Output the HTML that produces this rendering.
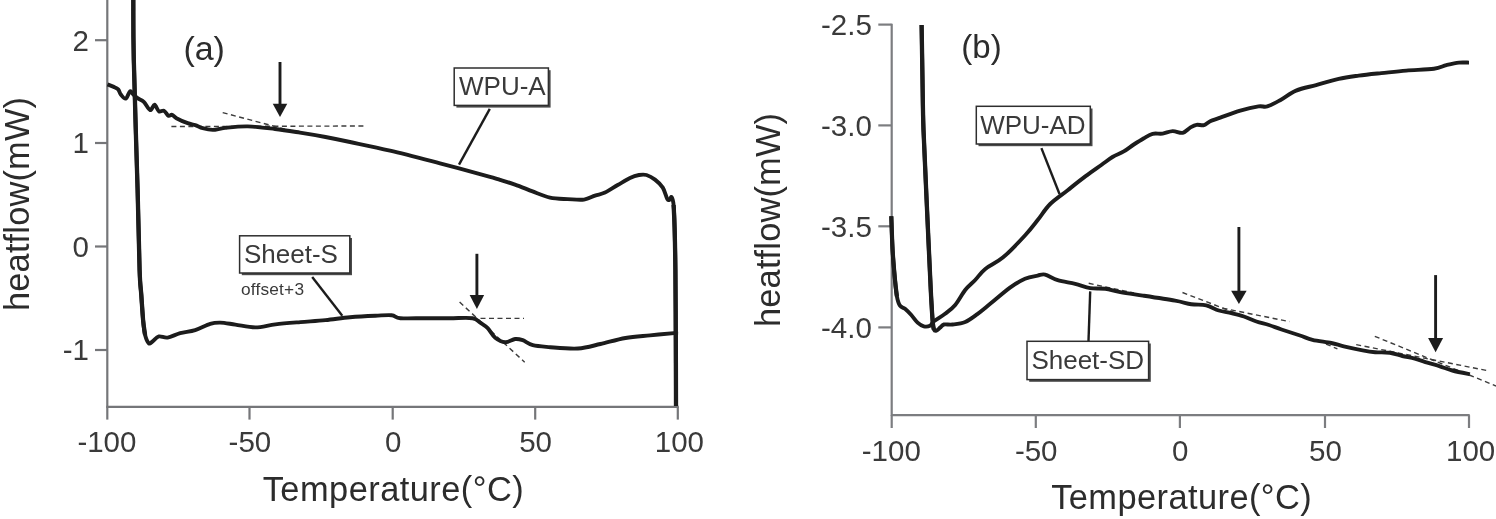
<!DOCTYPE html>
<html lang="en"><head><meta charset="utf-8"><title>DSC heatflow curves</title>
<style>html,body{margin:0;padding:0;background:#fff;overflow:hidden}svg{display:block;filter:blur(0.35px)}</style></head>
<body>
<svg width="1496" height="519" viewBox="0 0 1496 519" font-family="Liberation Sans, Arial, Helvetica, sans-serif">
<rect width="1496" height="519" fill="#fff"/>
<g stroke="#757679" stroke-width="2.2" fill="none">
<path d="M107.3 0V407.4"/>
<path d="M106.3 406.8H678.8"/>
<path d="M95 40.2H107.3"/>
<path d="M95 143H107.3"/>
<path d="M95 246.5H107.3"/>
<path d="M95 350H107.3"/>
<path d="M107.3 406.7V419.6"/>
<path d="M249.5 406.7V419.6"/>
<path d="M392.7 406.7V419.6"/>
<path d="M535.2 406.7V419.6"/>
<path d="M677.8 406.7V419.6"/>
</g>
<g stroke="#7c7d80" stroke-width="2.2" fill="none">
<path d="M891.7 23.8V416"/>
<path d="M891 415.2H1469.7"/>
<path d="M878.3 24.6H891.7"/>
<path d="M878.3 125.4H891.7"/>
<path d="M878.3 226.3H891.7"/>
<path d="M878.3 327.4H891.7"/>
<path d="M891.7 415.2V428"/>
<path d="M1035.8 415.2V428"/>
<path d="M1179.9 415.2V428"/>
<path d="M1325 415.2V428"/>
<path d="M1469 415.2V428"/>
</g>
<g font-size="29.5" fill="#3a3a3a">
<text x="89" y="50.6" text-anchor="end">2</text>
<text x="89" y="153.4" text-anchor="end">1</text>
<text x="89" y="256.9" text-anchor="end">0</text>
<text x="89" y="360.4" text-anchor="end">-1</text>
<text x="106.9" y="452.3" text-anchor="middle">-100</text>
<text x="249.9" y="452.3" text-anchor="middle">-50</text>
<text x="393.09999999999997" y="452.3" text-anchor="middle">0</text>
<text x="535.6" y="452.3" text-anchor="middle">50</text>
<text x="679.4" y="452.3" text-anchor="middle">100</text>
<text x="871.8" y="35.0" text-anchor="end">-2.5</text>
<text x="871.8" y="135.8" text-anchor="end">-3.0</text>
<text x="871.8" y="236.70000000000002" text-anchor="end">-3.5</text>
<text x="871.8" y="337.79999999999995" text-anchor="end">-4.0</text>
<text x="891.3000000000001" y="461.3" text-anchor="middle">-100</text>
<text x="1036.2" y="461.3" text-anchor="middle">-50</text>
<text x="1180.3000000000002" y="461.3" text-anchor="middle">0</text>
<text x="1325.4" y="461.3" text-anchor="middle">50</text>
<text x="1470.6000000000001" y="461.3" text-anchor="middle">100</text>
</g>
<g font-size="34.4" fill="#2c2c2c">
<text x="262.7" y="501" textLength="261" lengthAdjust="spacing">Temperature(°C)</text>
<text x="1051.2" y="509.3" textLength="260.5" lengthAdjust="spacing">Temperature(°C)</text>
<text transform="translate(28.5 311) rotate(-90)" textLength="214" lengthAdjust="spacing">heatflow(mW)</text>
<text transform="translate(780 327) rotate(-90)" textLength="214" lengthAdjust="spacing">heatflow(mW)</text>
</g>
<text x="183.4" y="59.8" font-size="34" fill="#2c2c2c">(a)</text>
<text x="961.3" y="58" font-size="33" fill="#2c2c2c">(b)</text>
<path d="M171.4 126.5L364.5 126" stroke="#3c3c3c" stroke-width="1.4" stroke-dasharray="5 3.5" fill="none"/>
<path d="M222.7 112.6L292 131" stroke="#3c3c3c" stroke-width="1.4" stroke-dasharray="5 3.5" fill="none"/>
<path d="M472 318.4L524 318.4" stroke="#3c3c3c" stroke-width="1.4" stroke-dasharray="5 3.5" fill="none"/>
<path d="M459.6 302.1L524.7 362.2" stroke="#3c3c3c" stroke-width="1.4" stroke-dasharray="5 3.5" fill="none"/>
<path d="M1088.7 283.3L1134 293" stroke="#3c3c3c" stroke-width="1.4" stroke-dasharray="5 3.5" fill="none"/>
<path d="M1182.5 292.5L1246 317" stroke="#3c3c3c" stroke-width="1.4" stroke-dasharray="5 3.5" fill="none"/>
<path d="M1222.6 308.2L1289.5 321.6" stroke="#3c3c3c" stroke-width="1.4" stroke-dasharray="5 3.5" fill="none"/>
<path d="M1326 344L1337.4 348.9" stroke="#3c3c3c" stroke-width="1.4" stroke-dasharray="5 3.5" fill="none"/>
<path d="M1356.2 344.6L1487.7 370.7" stroke="#3c3c3c" stroke-width="1.4" stroke-dasharray="5 3.5" fill="none"/>
<path d="M1374.8 336.3L1496 386" stroke="#3c3c3c" stroke-width="1.4" stroke-dasharray="5 3.5" fill="none"/>
<g stroke="#1c1c1c" fill="none" stroke-linecap="butt" stroke-linejoin="round">
<path stroke-width="3.9" d="M107.5 84.4C108.5 84.8 112.0 86.1 113.8 86.9C115.6 87.7 117.0 88.2 118.2 89.4C119.4 90.7 119.5 92.9 120.7 94.4C122.0 95.9 124.1 99.1 125.7 98.6C127.3 98.1 128.8 92.0 130.1 91.3C131.3 90.6 131.9 93.2 133.2 94.4C134.4 95.6 135.8 97.0 137.6 98.2C139.4 99.5 141.7 99.9 143.8 101.9C145.9 103.9 148.3 109.6 150.1 110.1C151.9 110.6 153.0 104.6 154.5 104.8C156.0 105.0 157.3 110.3 158.9 111.3C160.5 112.3 162.3 110.0 163.9 110.7C165.5 111.4 167.0 115.0 168.3 115.7C169.7 116.4 170.7 114.4 172.0 114.8C173.3 115.2 173.8 116.8 176.4 118.2C179.0 119.6 184.6 122.1 187.7 123.2C190.8 124.3 192.7 124.3 195.2 125.1C197.7 125.9 199.8 127.4 202.7 128.2C205.6 129.0 209.0 129.9 212.7 129.9C216.4 129.9 219.2 128.5 225.0 127.9C230.8 127.3 239.5 126.2 247.8 126.4C256.1 126.6 266.3 128.0 275.0 129.0C283.7 130.0 291.6 131.3 300.0 132.6C308.4 133.9 317.2 135.4 325.5 137.0C333.8 138.6 339.2 139.7 350.0 142.0C360.8 144.3 375.0 147.1 390.0 150.7C405.0 154.2 423.3 159.0 440.0 163.3C456.7 167.7 480.0 174.1 490.0 176.8C500.0 179.6 495.8 178.5 500.0 179.8C504.2 181.1 509.6 182.7 515.0 184.6C520.4 186.5 526.8 189.2 532.6 191.4C538.4 193.6 544.2 196.3 550.0 197.6C555.8 198.9 561.9 198.8 567.6 199.1C573.3 199.4 579.4 200.2 584.0 199.6C588.6 199.0 591.5 196.8 595.0 195.6C598.5 194.4 601.2 194.4 605.0 192.6C608.8 190.8 613.5 187.4 617.7 185.0C621.9 182.6 626.5 179.7 630.0 178.0C633.5 176.3 636.2 175.5 639.0 175.0C641.8 174.5 643.8 174.2 646.5 175.0C649.2 175.8 652.3 177.5 655.0 179.6C657.7 181.7 660.8 184.4 662.8 187.6C664.8 190.8 666.1 196.9 667.3 198.9C668.5 200.9 669.1 199.9 669.8 199.6C670.5 199.3 671.0 196.1 671.6 197.0C672.2 197.9 673.1 199.9 673.6 205.0C674.1 210.1 674.3 216.9 674.6 227.7C674.9 238.5 675.2 251.3 675.4 270.0C675.6 288.7 675.7 317.3 675.8 340.0C675.9 362.7 676.0 395.0 676.0 406.0"/>
<path stroke-width="3.9" d="M133.3 0.0C133.4 10.0 133.1 28.3 133.8 60.0C134.5 91.7 136.6 155.0 137.6 190.0C138.6 225.0 139.0 252.5 139.6 270.0C140.2 287.5 140.7 286.6 141.3 295.0C141.9 303.4 142.5 313.4 143.1 320.1C143.7 326.8 144.1 331.2 145.1 335.1C146.1 339.0 147.6 342.3 148.8 343.4C150.1 344.4 150.9 342.6 152.6 341.4C154.3 340.2 156.4 337.0 158.9 336.4C161.4 335.8 164.1 338.2 167.6 337.6C171.1 337.1 175.6 334.4 180.2 333.1C184.8 331.9 190.2 331.6 195.2 330.1C200.2 328.6 206.0 325.1 210.2 323.9C214.4 322.6 216.0 322.5 220.2 322.6C224.4 322.7 229.5 323.8 235.3 324.6C241.2 325.4 248.6 327.4 255.3 327.4C262.0 327.4 267.9 325.3 275.4 324.4C282.9 323.5 292.0 322.8 300.4 322.1C308.8 321.4 317.2 320.9 325.5 320.1C333.8 319.3 341.7 317.9 350.0 317.2C358.3 316.5 368.5 316.0 375.4 315.7C382.3 315.4 387.4 314.8 391.6 315.2C395.8 315.6 394.8 317.7 400.4 318.2C406.0 318.7 416.7 318.2 425.0 318.2C433.3 318.2 442.1 318.2 450.0 318.2C457.9 318.2 467.6 317.4 472.6 318.2C477.6 318.9 477.7 321.0 480.2 322.7C482.7 324.4 485.2 325.7 487.7 328.2C490.2 330.7 492.3 335.4 495.2 337.7C498.1 340.0 501.9 342.0 505.2 342.2C508.5 342.4 512.3 339.3 515.2 339.0C518.1 338.7 519.8 339.2 522.7 340.2C525.6 341.2 528.2 344.0 532.8 345.2C537.4 346.4 542.8 346.6 550.3 347.2C557.8 347.8 569.5 349.0 577.9 348.5C586.2 348.0 592.5 345.8 600.4 344.0C608.3 342.2 617.2 339.4 625.5 338.0C633.8 336.6 641.9 336.2 650.0 335.4C658.1 334.6 669.5 333.5 674.0 333.1C678.5 332.7 676.5 332.9 677.0 332.8"/>
<path stroke-width="3.9" d="M891.3 216.3C891.5 221.9 892.0 239.5 892.6 250.1C893.2 260.7 894.3 272.3 895.0 280.0C895.7 287.7 896.1 292.0 896.9 296.3C897.7 300.6 898.6 303.6 900.0 305.7C901.4 307.8 903.1 307.2 905.0 308.8C906.9 310.4 909.2 312.7 911.3 315.0C913.4 317.3 915.5 320.7 917.6 322.6C919.7 324.5 921.7 325.8 923.8 326.3C925.9 326.8 928.3 326.5 930.0 325.7C931.7 324.9 931.4 323.3 933.9 321.3C936.4 319.3 941.5 316.5 945.1 313.8C948.7 311.1 951.9 309.0 955.2 305.0C958.6 301.0 961.9 294.2 965.2 290.0C968.5 285.8 971.9 283.5 975.2 280.0C978.6 276.5 980.7 272.6 985.3 268.9C989.9 265.2 996.1 263.2 1002.8 257.6C1009.5 252.0 1019.6 241.3 1025.4 235.0C1031.2 228.7 1033.6 225.2 1037.7 220.0C1041.8 214.8 1045.2 209.0 1050.2 204.0C1055.2 199.0 1061.9 194.8 1067.7 190.2C1073.5 185.6 1079.7 180.6 1085.3 176.4C1090.9 172.2 1096.8 168.2 1101.3 165.0C1105.8 161.8 1108.8 159.3 1112.5 157.0C1116.2 154.7 1120.2 153.5 1123.8 151.4C1127.3 149.3 1130.4 146.7 1133.8 144.5C1137.2 142.3 1140.8 140.0 1143.9 138.2C1147.0 136.4 1149.5 134.6 1152.6 133.8C1155.7 133.0 1159.2 134.1 1162.6 133.6C1165.9 133.1 1169.3 131.2 1172.7 131.1C1176.1 131.0 1179.8 133.4 1182.7 132.8C1185.6 132.2 1187.9 128.9 1190.2 127.6C1192.5 126.3 1194.2 125.2 1196.5 124.8C1198.8 124.4 1201.7 125.7 1204.0 125.1C1206.3 124.5 1207.5 122.5 1210.2 121.3C1212.9 120.1 1215.3 119.5 1220.3 117.7C1225.3 115.9 1233.9 112.5 1240.3 110.6C1246.7 108.7 1254.0 107.1 1258.5 106.4C1263.0 105.7 1263.5 107.5 1267.3 106.4C1271.0 105.3 1276.2 102.3 1281.0 99.7C1285.8 97.1 1290.2 93.0 1296.1 90.6C1301.9 88.2 1309.0 87.0 1316.1 85.1C1323.2 83.1 1331.6 80.5 1338.7 78.9C1345.8 77.3 1351.6 76.6 1358.7 75.6C1365.8 74.6 1373.4 73.9 1381.3 73.1C1389.2 72.3 1397.5 71.3 1406.3 70.6C1415.1 69.9 1427.2 69.7 1433.9 68.8C1440.6 67.9 1442.2 66.1 1446.4 65.1C1450.6 64.1 1455.1 63.0 1458.9 62.6C1462.7 62.2 1467.3 62.6 1469.0 62.6"/>
<path stroke-width="3.9" d="M921.6 25.0C921.8 34.2 922.2 62.5 922.5 80.0C922.8 97.5 922.8 110.0 923.5 130.0C924.2 150.0 925.5 175.0 926.6 200.0C927.7 225.0 929.5 262.5 930.3 280.0C931.1 297.5 931.2 297.9 931.6 305.0C932.0 312.1 932.4 318.5 932.8 322.6C933.2 326.7 933.3 328.1 933.9 329.5C934.5 330.9 935.4 331.0 936.4 330.7C937.4 330.4 938.9 328.6 940.1 327.6C941.4 326.6 941.8 325.0 943.9 324.5C946.0 324.0 949.0 324.9 952.6 324.5C956.2 324.1 961.0 323.8 965.2 322.0C969.4 320.2 973.5 316.8 977.7 313.8C981.9 310.8 984.8 308.2 990.2 303.8C995.6 299.4 1004.2 291.8 1010.0 287.6C1015.8 283.4 1020.4 280.8 1025.0 278.8C1029.6 276.8 1034.2 276.3 1037.6 275.6C1040.9 274.9 1041.8 273.9 1045.1 274.6C1048.4 275.4 1052.7 278.6 1057.7 280.1C1062.7 281.6 1069.8 282.5 1075.2 283.8C1080.6 285.1 1085.2 287.3 1090.2 288.1C1095.2 288.9 1100.3 288.1 1105.3 288.8C1110.3 289.5 1114.0 291.0 1120.3 292.1C1126.5 293.2 1133.7 294.2 1142.8 295.6C1151.9 297.0 1166.9 299.3 1175.0 300.7C1183.1 302.1 1186.1 303.4 1191.3 304.2C1196.5 305.0 1201.7 304.2 1206.3 305.3C1210.9 306.4 1214.6 309.2 1218.8 310.5C1223.0 311.8 1227.2 312.2 1231.4 313.2C1235.6 314.2 1239.7 315.1 1243.9 316.5C1248.1 317.9 1252.2 320.1 1256.4 321.5C1260.6 322.9 1264.7 323.7 1268.9 325.0C1273.1 326.3 1276.3 327.8 1281.5 329.5C1286.7 331.2 1294.8 333.8 1300.0 335.5C1305.2 337.2 1307.3 338.6 1312.5 339.8C1317.7 341.1 1326.1 341.9 1331.3 343.0C1336.5 344.1 1338.6 345.1 1343.8 346.3C1349.0 347.5 1357.4 349.3 1362.6 350.3C1367.8 351.3 1370.7 351.8 1375.2 352.2C1379.7 352.6 1385.3 352.2 1389.8 352.8C1394.3 353.4 1398.1 355.0 1402.3 356.0C1406.5 357.0 1410.6 357.5 1414.8 358.6C1419.0 359.7 1423.2 361.3 1427.4 362.6C1431.6 363.9 1435.7 365.0 1439.9 366.3C1444.1 367.6 1447.4 369.2 1452.4 370.5C1457.4 371.8 1467.0 373.7 1469.9 374.3"/>
<path stroke-width="4.3" d="M133.3 0.0C133.4 10.0 133.1 28.3 133.8 60.0C134.5 91.7 136.6 155.0 137.6 190.0C138.6 225.0 139.0 252.5 139.6 270.0C140.2 287.5 140.7 286.6 141.3 295.0C141.9 303.4 142.5 313.4 143.1 320.1C143.7 326.8 144.8 332.6 145.1 335.1"/>
<path stroke-width="4.3" d="M673.6 205.0C673.8 208.8 674.3 216.9 674.6 227.7C674.9 238.5 675.2 251.3 675.4 270.0C675.6 288.7 675.7 317.3 675.8 340.0C675.9 362.7 676.0 395.0 676.0 406.0"/>
<path stroke-width="4.3" d="M921.6 25.0C921.8 34.2 922.2 62.5 922.5 80.0C922.8 97.5 922.8 110.0 923.5 130.0C924.2 150.0 925.5 175.0 926.6 200.0C927.7 225.0 929.5 262.5 930.3 280.0C931.1 297.5 931.2 297.9 931.6 305.0C932.0 312.1 932.4 318.5 932.8 322.6C933.2 326.7 933.7 328.4 933.9 329.5"/>
<path stroke-width="4.2" d="M891.3 216.3C891.5 221.9 892.0 239.5 892.6 250.1C893.2 260.7 894.3 272.3 895.0 280.0C895.7 287.7 896.6 293.6 896.9 296.3"/>
</g>
<g stroke="#1c1c1c" stroke-width="2.4" fill="none">
<path d="M489.8 108.8L459 164.7"/>
<path d="M312.2 277.1L342.3 315.7"/>
<path d="M1041.4 148.1L1059.5 194"/>
<path d="M1090.2 291.4L1088.5 341"/>
</g>
<rect x="456.4" y="70.2" width="94.19999999999999" height="37.400000000000006" fill="#4a4a4a"/>
<rect x="454.2" y="68" width="94.19999999999999" height="37.400000000000006" fill="#fff" stroke="#2e2e2e" stroke-width="1.5"/>
<text x="459" y="95.2" font-size="26" fill="#3a3a3a">WPU-A</text>
<rect x="241.79999999999998" y="238.0" width="110.20000000000002" height="37.19999999999999" fill="#4a4a4a"/>
<rect x="239.6" y="235.8" width="110.20000000000002" height="37.19999999999999" fill="#fff" stroke="#2e2e2e" stroke-width="1.5"/>
<text x="244" y="263.4" font-size="26" fill="#3a3a3a">Sheet-S</text>
<rect x="978.5" y="108.5" width="114.0" height="37.7" fill="#4a4a4a"/>
<rect x="976.3" y="106.3" width="114.0" height="37.7" fill="#fff" stroke="#2e2e2e" stroke-width="1.5"/>
<text x="980.2" y="134.4" font-size="26" fill="#3a3a3a">WPU-AD</text>
<rect x="1029.2" y="343.5" width="121.59999999999991" height="38.30000000000001" fill="#4a4a4a"/>
<rect x="1027" y="341.3" width="121.59999999999991" height="38.30000000000001" fill="#fff" stroke="#2e2e2e" stroke-width="1.5"/>
<text x="1031.4" y="369.4" font-size="26" fill="#3a3a3a">Sheet-SD</text>
<text x="241" y="294.5" font-size="17.3" textLength="63" fill="#3a3a3a">offset+3</text>
<path d="M280 62V104.8" stroke="#1c1c1c" stroke-width="2.9" fill="none"/><path d="M272.75 103.8H287.25L280 117Z" fill="#1c1c1c"/>
<path d="M476.9 253.8V296.1" stroke="#1c1c1c" stroke-width="2.9" fill="none"/><path d="M469.65 295.1H484.15L476.9 308.9Z" fill="#1c1c1c"/>
<path d="M1238.9 227V291.7" stroke="#1c1c1c" stroke-width="2.9" fill="none"/><path d="M1231.15 290.7H1246.65L1238.9 303.9Z" fill="#1c1c1c"/>
<path d="M1435.6 275.1V339" stroke="#1c1c1c" stroke-width="2.9" fill="none"/><path d="M1428.1 338H1443.1L1435.6 352.3Z" fill="#1c1c1c"/>
</svg>
</body></html>
